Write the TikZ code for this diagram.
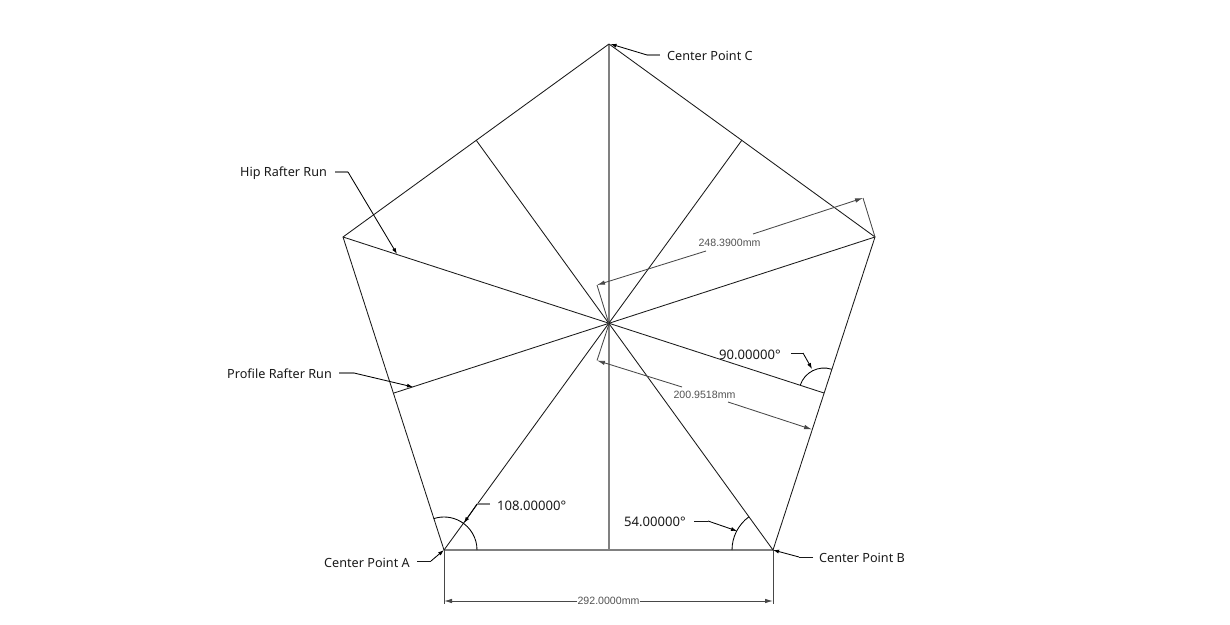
\documentclass[tikz,border=0pt]{standalone}
\usepackage{fontspec}
\setmainfont{Noto Sans}
\newfontfamily\dimfont{Liberation Sans}
\usetikzlibrary{arrows.meta}
\definecolor{dimgrey}{HTML}{484848}
\tikzset{
  x=1pt,y=1pt,
  edge/.style={line width=0.85pt,black!90},
  axis/.style={line width=1.7pt,black!50},
  stub/.style={line width=1.1pt,black!50},
  arcline/.style={line width=0.85pt,black},
  leader/.style={line width=0.85pt,black,-{Latex[length=6pt,width=4pt]}},
  dimline/.style={line width=0.85pt,dimgrey},
  dimarrow/.style={line width=0.85pt,dimgrey,-{Latex[length=8pt,width=4.5pt]}},
  lab/.style={inner sep=0pt,font=\fontsize{12.65}{14}\selectfont,text=black!90},
  anglab/.style={inner sep=0pt,font=\fontsize{13.1}{14}\selectfont,text=black!90},
  dimlab/.style={inner sep=0pt,font=\dimfont\fontsize{10.6}{12}\selectfont,text=black!68},
}
\begin{document}
\begin{tikzpicture}
\useasboundingbox (0,0) rectangle (1230,624);
% vertices
\coordinate (A) at (444,74);
\coordinate (B) at (773,74);
\coordinate (C) at (609,580);
\coordinate (L) at (343,387);
\coordinate (R) at (875,387);
\coordinate (O) at (609,300);
\coordinate (mTL) at (476,484);
\coordinate (mTR) at (742,484);
\coordinate (mR) at (824,231);
\coordinate (mL) at (394,231);
\coordinate (mB) at (609,74);
% axis lines
\draw[axis] (C) -- (mB);
\draw[axis] (A) -- (B);
% pentagon
\draw[edge,line join=round] (A) -- (L) -- (C) -- (R) -- (B);
% rafters
\draw[edge] (L) -- (mR);
\draw[edge] (R) -- (mL);
\draw[edge] (A) -- (mTR);
\draw[edge] (B) -- (mTL);
% angle arcs
\draw[arcline] (477,74) arc[start angle=0,end angle=108,radius=33];
\draw[arcline] (732,74) arc[start angle=180,end angle=126,radius=41];
\draw[arcline] (800.2,238.7) arc[start angle=162,end angle=72,radius=25];
% dimension 292
\coordinate (dA) at (444,23);
\coordinate (dB) at (773,23);
\coordinate (dAe) at (444,20);
\coordinate (dBe) at (773,20);
\node[dimlab] (t292) at (608.5,23) {292.0000mm};
\draw[dimline] (A) -- (dAe);
\draw[dimline] (B) -- (dBe);
\draw[dimarrow] (t292.west) -- (dA);
\draw[dimarrow] (t292.east) -- (dB);
% dimension 248
\coordinate (e1) at (597,339);
\coordinate (e2) at (863,426);
\node[dimlab] (t248) at (729.5,381.5) {248.3900mm};
\coordinate (g1) at (706,373);
\coordinate (g2) at (753,390);
\draw[dimline] (O) -- (e1);
\draw[dimline] (R) -- (e2);
\draw[dimarrow] (g1) -- (e1);
\draw[dimarrow] (g2) -- (e2);
% dimension 200
\coordinate (f1) at (597,263.5);
\coordinate (f2) at (812,194.5);
\node[dimlab] (t200) at (704.5,229.5) {200.9518mm};
\coordinate (h1) at (682,237);
\coordinate (h2) at (728,222);
\draw[dimline] (O) -- (f1);
\draw[dimarrow] (h1) -- (f1);
\draw[dimarrow] (h2) -- (f2);
% labels and leaders
\node[lab,anchor=west] (tC) at (667,568.5) {Center Point C};
\coordinate (kC) at (647,569);
\draw[stub] (660,569) -- (kC);
\draw[leader] (kC) -- (610.5,580);
\node[lab,anchor=west] (tHip) at (240,451) {Hip Rafter Run};
\coordinate (kHip) at (348,452);
\draw[stub] (335,452) -- (kHip);
\draw[leader] (kHip) -- (397,370);
\node[lab,anchor=west] (tPro) at (227,250) {Profile Rafter Run};
\coordinate (kPro) at (354,251);
\draw[stub] (339,251) -- (kPro);
\draw[leader] (kPro) -- (413,237);
\node[anglab,anchor=west] (t90) at (719,269.5) {90.00000°};
\coordinate (k90) at (803,271);
\draw[edge] (791,271) -- (k90);
\draw[leader] (k90) -- (812,255);
\node[anglab,anchor=west] (t108) at (497,118) {108.00000°};
\coordinate (k108) at (477,120);
\draw[stub] (490,120) -- (k108);
\draw[leader] (k108) -- (464,101);
\node[anglab,anchor=west] (t54) at (624,102) {54.00000°};
\coordinate (k54) at (708,103);
\draw[edge] (694,103) -- (k54);
\draw[leader] (k54) -- (737,93);
\node[lab,anchor=west] (tA) at (324,61.5) {Center Point A};
\coordinate (kA) at (431,63);
\draw[edge] (417,63) -- (kA);
\draw[leader] (kA) -- (A);
\node[lab,anchor=west] (tB) at (819,66) {Center Point B};
\coordinate (kB) at (799,67);
\draw[edge] (813,67) -- (kB);
\draw[leader] (kB) -- (B);
\end{tikzpicture}
\end{document}
